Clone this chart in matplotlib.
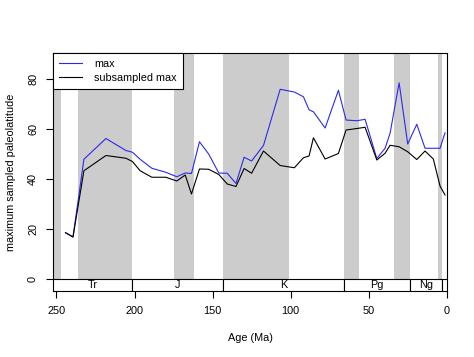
import matplotlib
matplotlib.use("Agg")
import matplotlib.pyplot as plt
from matplotlib.patches import Rectangle

plt.rcParams["font.family"] = ["Liberation Sans", "DejaVu Sans"]

# bin ages (Ma) and the two series
ages = [244.2, 239.4, 232.4, 218.3, 205.5, 201.3, 196.4, 188.9, 180.0, 172.9,
        167.5, 163.5, 158.4, 152.5, 146.0, 140.6, 135.0, 129.8, 125.0, 117.4,
        106.7, 97.6, 91.8, 88.2, 85.4, 77.9, 69.4, 64.5, 57.6, 52.3,
        44.8, 39.5, 36.3, 30.5, 25.0, 19.2, 13.9, 8.6, 4.3, 1.1]
max_lat = [18.5, 16.8, 47.9, 56.2, 51.4, 50.7, 47.9, 44.3, 42.7, 40.9,
           42.4, 42.2, 54.9, 50.0, 42.4, 42.3, 38.2, 48.7, 47.2, 53.4,
           75.9, 74.8, 72.9, 67.7, 66.9, 60.4, 75.5, 63.6, 63.3, 63.9,
           48.2, 52.3, 58.3, 78.5, 54.0, 61.9, 52.3, 52.3, 52.3, 58.5]
sub_max_lat = [18.5, 16.8, 43.3, 49.4, 48.3, 47.0, 43.3, 40.7, 40.7, 39.2,
               41.6, 34.0, 44.0, 43.9, 41.8, 38.0, 37.0, 44.2, 42.3, 51.2,
               45.4, 44.5, 48.5, 49.2, 56.5, 48.0, 50.2, 59.6, 60.2, 60.7,
               47.6, 50.3, 53.5, 52.9, 50.9, 47.8, 51.2, 48.0, 37.2, 33.6]

# shaded epochs (start, end in Ma)
band_start = [252.0, 236.5, 174.6, 143.0, 66.0, 33.9, 5.3]
band_end = [247.4, 201.3, 161.8, 100.8, 56.2, 23.3, 2.8]

# periods for the timescale strip
period_names = ["Tr", "J", "K", "Pg", "Ng", ""]
period_start = [252.0, 201.3, 143.0, 66.0, 23.3, 2.8]
period_end = [201.3, 143.0, 66.0, 23.3, 2.8, 0.0]

x_ticks = [250, 200, 150, 100, 50, 0]
y_ticks = [0, 20, 40, 60, 80]

YMIN, YMAX = -4.7, 90.3
XMAX, XMIN = 252.0, 0.0
FS = 7.8

fig = plt.figure(figsize=(4.74, 3.57), dpi=100)
ax = fig.add_axes([0.1125, 0.1857, 0.83, 0.665])

for s, e in zip(band_start, band_end):
    ax.axvspan(e, s, ymin=(0 - YMIN) / (YMAX - YMIN), ymax=1, color="#cccccc", lw=0, zorder=0)

for name, s, e in zip(period_names, period_start, period_end):
    ax.add_patch(Rectangle((e, YMIN), s - e, -YMIN, facecolor="white",
                           edgecolor="black", lw=0.8, zorder=3))
    if name:
        ax.text((s + e) / 2, YMIN / 2 - 0.1, name, ha="center", va="center",
                fontsize=FS, zorder=4)

ax.plot(ages, max_lat, color="#2a2aee", lw=0.8, label="max", zorder=2)
ax.plot(ages, sub_max_lat, color="black", lw=0.8, label="subsampled max", zorder=2)

ax.set_xlim(XMAX, XMIN)
ax.set_ylim(YMIN, YMAX)
ax.set_xticks(x_ticks)
ax.set_yticks(y_ticks)
ax.set_yticklabels([str(v) for v in y_ticks], rotation=90, va="center")
ax.tick_params(axis="both", direction="out", length=5, width=0.8, labelsize=FS, pad=6)
for sp in ax.spines.values():
    sp.set_linewidth(0.8)

ax.set_xlabel("Age (Ma)", fontsize=FS, labelpad=12)
ax.set_ylabel("maximum sampled paleolatitude", fontsize=FS, labelpad=9)

leg = ax.legend(loc="upper left", fontsize=FS, fancybox=False, framealpha=1,
                edgecolor="black", borderaxespad=0, handlelength=2.1,
                borderpad=0.55, labelspacing=0.35, handletextpad=1.1)
leg.get_frame().set_linewidth(0.8)

fig.savefig("out.png", dpi=100)
